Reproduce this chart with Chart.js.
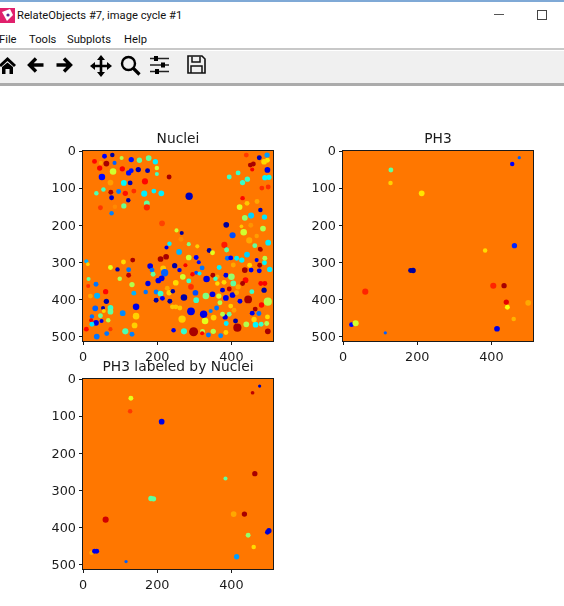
<!DOCTYPE html>
<html>
<head>
<meta charset="utf-8">
<title>RelateObjects #7, image cycle #1</title>
<script src="https://cdn.jsdelivr.net/npm/chart.js@4/dist/chart.umd.min.js"></script>
<style>
  html, body { margin: 0; padding: 0; background: #fff; }
  body { position: relative; width: 564px; height: 606px; overflow: hidden; font-family: Roboto, "Open Sans", sans-serif; color: #111; }
  .desk-strip { position: absolute; left: 0; top: 0; width: 564px; height: 2px; background: #7fa9d6; }
  .win-title { position: absolute; left: 17px; top: 8px; font-size: 11.2px; line-height: 16px; white-space: nowrap; }
  .app-icon { position: absolute; left: 0; top: 8px; }
  .win-min { position: absolute; left: 494px; top: 14px; width: 10px; height: 1px; background: #555; }
  .win-max { position: absolute; left: 537px; top: 10px; width: 8px; height: 8px; border: 1px solid #444; }
  .menu span { position: absolute; top: 32px; font-size: 11.2px; line-height: 16px; }
  .tool-top { position: absolute; left: 0; top: 48px; width: 564px; height: 2px; background: #c8c8c8; }
  .toolbar { position: absolute; left: 0; top: 51px; width: 564px; height: 32px; background: #f0f0f0; }
  .tool-bot { position: absolute; left: 0; top: 83px; width: 564px; height: 3px; background: #ababab; }
  .toolbar svg { position: absolute; top: 4px; }
  canvas { position: absolute; filter: blur(0.35px); }
</style>
</head>
<body>
<div class="desk-strip"></div>
<svg class="app-icon" width="15" height="15" viewBox="0 0 15 15"><rect width="15" height="15" fill="#e0206c"/><path d="M2 4 L10 1 L13 7 L7 13 Z" fill="#fff"/><circle cx="8" cy="7" r="1.6" fill="#5a2a90"/></svg>
<div class="win-title">RelateObjects #7, image cycle #1</div>
<div class="win-min"></div>
<div class="win-max"></div>
<div class="menu">
  <span style="left:-1px">File</span>
  <span style="left:29px">Tools</span>
  <span style="left:67px">Subplots</span>
  <span style="left:124px">Help</span>
</div>
<div class="tool-top"></div>
<div class="toolbar">
  <svg style="left:-1px" width="18" height="20" viewBox="0 0 18 20"><path d="M0 10 L8.5 2 L17 10 L15 12 L8.5 6 L2 12 Z M3 12 L8.5 7.5 L14 12 V19 H10.5 V14 H6.5 V19 H3 Z" fill="#000"/></svg>
  <svg style="left:26px" width="20" height="20" viewBox="0 0 20 20"><path d="M17.5 10 H5 M10 3.5 L3.5 10 L10 16.5" fill="none" stroke="#000" stroke-width="3.4"/></svg>
  <svg style="left:54px" width="20" height="20" viewBox="0 0 20 20"><path d="M2.5 10 H15 M10 3.5 L16.5 10 L10 16.5" fill="none" stroke="#000" stroke-width="3.4"/></svg>
  <svg style="left:90px" width="22" height="22" viewBox="0 0 22 22"><path d="M11 3 V19 M3 11 H19" stroke="#000" stroke-width="2.6"/><path d="M11 0 L15 5 H7 Z M11 22 L15 17 H7 Z M0 11 L5 7 V15 Z M22 11 L17 7 V15 Z" fill="#000"/></svg>
  <svg style="left:120px" width="21" height="21" viewBox="0 0 21 21"><circle cx="8.5" cy="8.5" r="6.5" fill="none" stroke="#000" stroke-width="2.4"/><path d="M13 13 L19.5 19.5" stroke="#000" stroke-width="3.2"/></svg>
  <svg style="left:150px" width="20" height="20" viewBox="0 0 20 20"><path d="M0 3.5 H19 M0 10 H19 M0 16.5 H19" stroke="#222" stroke-width="1.5"/><rect x="4" y="1" width="4" height="5" fill="#000"/><rect x="11" y="7.5" width="4" height="5" fill="#000"/><rect x="5" y="14" width="4" height="5" fill="#000"/></svg>
  <svg style="left:187px" width="19" height="19" viewBox="0 0 19 19"><path d="M1 1 H15 L18 4 V18 H1 Z" fill="none" stroke="#111" stroke-width="1.6"/><path d="M5 1.5 V7 H13 V1.5 M4 18 V11 H15 V18" fill="none" stroke="#111" stroke-width="1.5"/></svg>
</div>
<div class="tool-bot"></div>

<canvas id="nucleiChart" width="266" height="238" style="left:45px;top:125px"></canvas>
<canvas id="ph3Chart" width="266" height="238" style="left:305px;top:125px"></canvas>
<canvas id="labeledChart" width="266" height="238" style="left:45px;top:353px"></canvas>

<script>
/* Image size and tick labels */
const imageSize = 512;
const xTicks = [0, 200, 400];
const yTicks = [0, 100, 200, 300, 400, 500];
const backgroundLabel = 0.758;

/* Nuclei panel: one entry per object, label is the position on the jet scale, size a radius in image pixels */
const nucleiX = [
  58, 79, 31, 48, 63, 45, 85, 104, 130, 152,
  177, 195, 81, 106, 130, 123, 149, 174, 199, 199,
  51, 74, 110, 127, 167, 232, 36, 55, 75, 96,
  114, 137, 165, 191, 211, 77, 122, 286, 47, 86,
  110, 172, 172, 77, 213, 252, 266, 264, 233, 285,
  308, 225, 440, 475, 496, 497, 488, 451, 459, 456,
  497, 418, 394, 443, 430, 490, 501, 482, 499, 430,
  442, 469, 422, 478, 453, 436, 489, 386, 403, 427,
  452, 485, 433, 468, 448, 499, 463, 381, 477, 387,
  9, 13, 74, 109, 134, 93, 123, 123, 181, 186,
  189, 209, 224, 216, 259, 285, 247, 260, 276, 305,
  312, 340, 349, 321, 305, 314, 295, 220, 212, 203,
  15, 99, 35, 14, 132, 175, 269, 250, 291, 285,
  333, 350, 362, 385, 367, 389, 398, 414, 428, 442,
  387, 479, 449, 476, 436, 453, 475, 489, 503, 468,
  490, 405, 400, 405, 438, 430, 418, 479, 490, 488,
  394, 376, 362, 357, 380, 61, 38, 20, 169, 137,
  197, 209, 227, 232, 242, 197, 214, 234, 272, 303,
  305, 331, 349, 366, 385, 403, 414, 445, 423, 455,
  498, 481, 464, 456, 63, 33, 54, 56, 74, 74,
  107, 143, 143, 24, 22, 35, 50, 47, 68, 24,
  9, 74, 64, 37, 114, 132, 139, 244, 272, 298,
  322, 321, 351, 338, 371, 385, 386, 411, 416, 440,
  465, 480, 498, 495, 497, 461, 474, 291, 267, 325,
  329, 352, 360, 344, 250, 241, 261, 383, 376, 394,
  407, 398, 369
];
const nucleiY = [
  14, 11, 28, 32, 34, 46, 32, 19, 23, 25,
  19, 29, 55, 48, 53, 59, 50, 53, 46, 62,
  70, 85, 86, 86, 82, 70, 114, 104, 111, 109,
  114, 108, 115, 108, 114, 126, 133, 122, 153, 150,
  148, 141, 152, 168, 195, 214, 221, 238, 250, 251,
  257, 260, 11, 18, 11, 25, 29, 38, 35, 50,
  51, 59, 70, 76, 85, 72, 71, 100, 97, 127,
  141, 136, 151, 159, 174, 180, 178, 199, 227, 203,
  200, 209, 219, 229, 241, 247, 255, 253, 264, 265,
  297, 305, 314, 299, 294, 319, 320, 335, 310, 321,
  332, 291, 285, 316, 272, 287, 309, 321, 308, 287,
  300, 268, 274, 315, 328, 330, 332, 328, 343, 349,
  345, 344, 359, 364, 360, 357, 339, 355, 366, 350,
  345, 335, 339, 335, 314, 289, 288, 289, 294, 279,
  267, 266, 308, 308, 321, 321, 323, 301, 319, 294,
  289, 307, 339, 357, 348, 357, 366, 357, 357, 375,
  372, 375, 357, 344, 354, 379, 390, 391, 380, 383,
  380, 384, 370, 382, 378, 402, 397, 405, 395, 382,
  402, 391, 386, 391, 396, 388, 382, 400, 405, 379,
  406, 415, 426, 437, 405, 424, 423, 431, 423, 433,
  437, 420, 445, 446, 456, 463, 458, 444, 456, 467,
  480, 480, 492, 500, 486, 494, 470, 483, 486, 487,
  486, 491, 486, 496, 498, 489, 465, 458, 476, 467,
  468, 467, 486, 465, 447, 454, 438, 432, 453, 440,
  458, 449, 423, 431, 420, 420, 423, 447, 440, 440,
  429, 418, 409
];
const nucleiLabel = [
  .12, .03, .87, .72, .96, .88, .22, .55, .14, .47,
  .47, .36, .58, .88, .14, .14, .05, .05, .58, .44,
  .13, .72, .37, .05, .87, .96, .45, .44, .96, .25,
  .86, .83, .36, .36, .36, .08, .04, .06, .82, .74,
  .48, .47, .84, .25, .81, .58, .03, .74, .36, .5,
  .67, .1, .82, .05, .28, .65, .66, .96, .96, .88,
  .1, .43, .43, .43, .43, .37, .37, .83, .83, .87,
  .68, .71, .6, .05, .33, .52, .35, .03, .2, .68,
  .73, .55, .58, .72, .71, .36, .47, .85, .96, .38,
  .3, .67, .6, .66, .96, .04, .24, .94, .1, .24,
  .47, .96, .96, .68, .3, .58, .04, .1, .88, .12,
  .14, .03, .6, .24, .2, .36, .87, .22, .1, .1,
  .48, .55, .24, .83, .55, .1, .58, .66, .83, .43,
  .1, .96, .71, .1, .36, .24, .12, .36, .36, .33,
  .47, .96, .66, .96, .96, .1, .1, .37, .36, .1,
  .55, .71, .52, .47, .87, .96, .71, .88, .88, .03,
  .94, .08, .66, .43, .66, .87, .3, .71, .24, .3,
  .25, .43, .71, .67, .04, .04, .12, .03, .04, .2,
  .43, .5, .1, .58, .1, .1, .71, .96, .1, .43,
  .55, .87, .96, .1, .04, .22, .04, .67, .43, .47,
  .26, .1, .67, .24, .88, .1, .1, .48, .55, .35,
  .87, .82, .24, .24, .45, .25, .67, .1, .42, .96,
  .55, .87, .55, .24, .26, .67, .36, .04, .96, .55,
  .37, .43, .96, .55, .66, .67, .24, .1, .67, .1,
  .6, .67, .24, .25, .68, .68, .68, .1, .55, .48,
  .72, .67, .55
];
const nucleiSize = [
  6, 5.5, 6, 5, 7, 6.5, 5, 5, 6.5, 6.5,
  7, 6.5, 8, 6.5, 6, 6.5, 6.5, 6, 5.5, 5,
  8, 7, 7, 6, 7.5, 6, 5.5, 5.5, 6, 6,
  6.5, 6, 7.5, 6, 7, 6, 5.5, 9, 6, 5.5,
  6.5, 7, 7.5, 5.5, 7, 5, 5, 6, 5.5, 5,
  5, 5, 6, 6, 6.5, 6, 7, 6, 6, 5,
  7, 6, 6, 6.5, 6.5, 6.5, 6.5, 6, 6, 5.5,
  6, 6, 7, 5.5, 7.5, 7, 6.5, 7, 7.5, 4.5,
  6, 7, 8, 5.5, 7.5, 7, 6, 7.5, 5.5, 5,
  5, 4.5, 6, 6, 6, 5.5, 6, 6, 7, 6,
  6, 7, 7, 7, 7, 7, 6.5, 5.5, 5, 6,
  5, 6, 6, 6, 5, 5, 5.5, 9, 7, 7,
  5, 5.5, 6, 5, 6.5, 6.5, 7, 7, 7, 6,
  8, 6, 5.5, 6, 6, 6, 6, 6, 6.5, 7,
  6, 5, 6, 6, 7, 6, 6, 6, 6.5, 5,
  6, 6, 8, 7, 7, 6, 6.5, 6, 6, 6.5,
  6, 6, 5.5, 5.5, 6, 6.5, 7.5, 6, 5.5, 6,
  6, 7, 6, 6.5, 5.5, 6, 6, 6, 8, 7,
  7, 8, 7, 6.5, 7, 7, 6, 9.5, 6, 6,
  10, 6.5, 6, 6, 6.5, 7, 5, 5, 7, 7,
  7, 8, 8, 5.5, 5, 7, 5, 6, 5.5, 6,
  6, 5, 6, 7, 7.5, 6, 7, 5.5, 7.5, 11,
  6, 5, 6.5, 6, 6, 6, 6, 6, 10, 7,
  7, 6, 7, 6, 6, 6.5, 6, 9.5, 9, 9,
  8, 7, 6, 5, 6, 6, 6, 6.5, 6, 6,
  6, 6, 6
];

/* PH3 panel */
const ph3X = [129, 128, 212, 456, 475, 383, 462, 182, 189, 405, 434, 60, 440, 499, 443, 460, 415, 23, 34, 114];
const ph3Y = [51, 86, 114, 35, 18, 268, 255, 322, 322, 363, 363, 379, 407, 409, 421, 453, 479, 468, 464, 490];
const ph3Label = [.47, .67, .65, .12, .22, .66, .16, .03, .03, .84, .96, .84, .9, .71, .62, .7, .1, .12, .58, .22];
const ph3Size = [6, 5.5, 7, 5.5, 4, 5.5, 6.5, 6, 6.5, 7.5, 6.5, 7.5, 6.5, 7, 6, 5.5, 7, 6, 7.5, 4];

/* PH3 labeled by Nuclei panel */
const labeledX = [129, 127, 212, 457, 476, 384, 463, 183, 190, 406, 435, 61, 501, 497, 445, 460, 414, 23, 31, 37, 116];
const labeledY = [52, 87, 115, 37, 19, 268, 255, 322, 323, 364, 364, 379, 409, 413, 421, 453, 479, 468, 464, 464, 492];
const labeledLabel = [.6, .82, .1, .94, .05, .47, .96, .47, .47, .71, .96, .92, .08, .08, .52, .66, .28, .71, .1, .1, .22];
const labeledSize = [6, 5.5, 7, 4.5, 4, 5, 6.5, 6.5, 6.5, 7, 6.5, 7.5, 6.5, 6, 6, 5.5, 6.5, 5.5, 6, 6, 4];

const plotPixels = 190;
const axisWidth = 38;

// matplotlib's jet colormap
function jet(v) {
  const ch = c => Math.round(255 * Math.max(0, Math.min(1, 1.5 - Math.abs(4 * v - c))));
  return `rgb(${ch(3)},${ch(2)},${ch(1)})`;
}

const imagePlugin = {
  id: 'imagePanel',
  beforeDatasetsDraw(chart) {
    const { ctx, chartArea: a } = chart;
    ctx.save();
    ctx.fillStyle = jet(backgroundLabel);
    ctx.fillRect(a.left, a.top, a.right - a.left, a.bottom - a.top);
    ctx.restore();
  },
  afterDatasetsDraw(chart) {
    const { ctx, chartArea: a } = chart;
    ctx.save();
    ctx.strokeStyle = '#1a1a1a';
    ctx.lineWidth = 1;
    ctx.strokeRect(a.left - 0.5, a.top - 0.5, a.right - a.left + 1, a.bottom - a.top + 1);
    ctx.restore();
  }
};

function axis(ticksList, reverse, fit, tickOpts) {
  return {
    type: 'linear',
    min: 0,
    max: imageSize,
    reverse,
    afterFit: fit,
    afterBuildTicks: s => { s.ticks = ticksList.map(value => ({ value })); },
    border: { color: '#1a1a1a' },
    grid: { drawOnChartArea: false, tickLength: 4, tickColor: '#1a1a1a' },
    ticks: {
      color: '#1a1a1a',
      autoSkip: false,
      maxRotation: 0,
      font: { family: '"DejaVu Sans"', size: 12.8 },
      ...tickOpts
    }
  };
}

function makePanel(id, title, xs, ys, labels, sizes) {
  return new Chart(document.getElementById(id), {
    type: 'bubble',
    data: {
      datasets: [{
        data: xs.map((x, i) => ({ x, y: ys[i], r: sizes[i] * plotPixels / imageSize * 1.1 })),
        backgroundColor: labels.map(jet),
        borderWidth: 0
      }]
    },
    options: {
      responsive: false,
      animation: false,
      events: [],
      plugins: {
        legend: { display: false },
        tooltip: { enabled: false },
        title: {
          display: true,
          text: title,
          color: '#1a1a1a',
          padding: { top: 5, bottom: 3 },
          font: { family: '"DejaVu Sans"', size: 13.8, weight: 'normal', lineHeight: 18 / 13.8 }
        }
      },
      scales: {
        x: axis(xTicks, false, s => { s.height = 22; }, { padding: 5 }),
        y: axis(yTicks, true, s => { s.width = axisWidth; }, { padding: 3, labelOffset: 1 }),
        // empty right axis, keeps the title centred over the image
        spacer: {
          position: 'right',
          min: 0,
          max: 1,
          grid: { display: false },
          border: { display: false },
          ticks: { display: false },
          afterFit: s => { s.width = axisWidth; }
        }
      }
    },
    plugins: [imagePlugin]
  });
}

makePanel('nucleiChart', 'Nuclei', nucleiX, nucleiY, nucleiLabel, nucleiSize);
makePanel('ph3Chart', 'PH3', ph3X, ph3Y, ph3Label, ph3Size);
makePanel('labeledChart', 'PH3 labeled by Nuclei', labeledX, labeledY, labeledLabel, labeledSize);
</script>
</body>
</html>
